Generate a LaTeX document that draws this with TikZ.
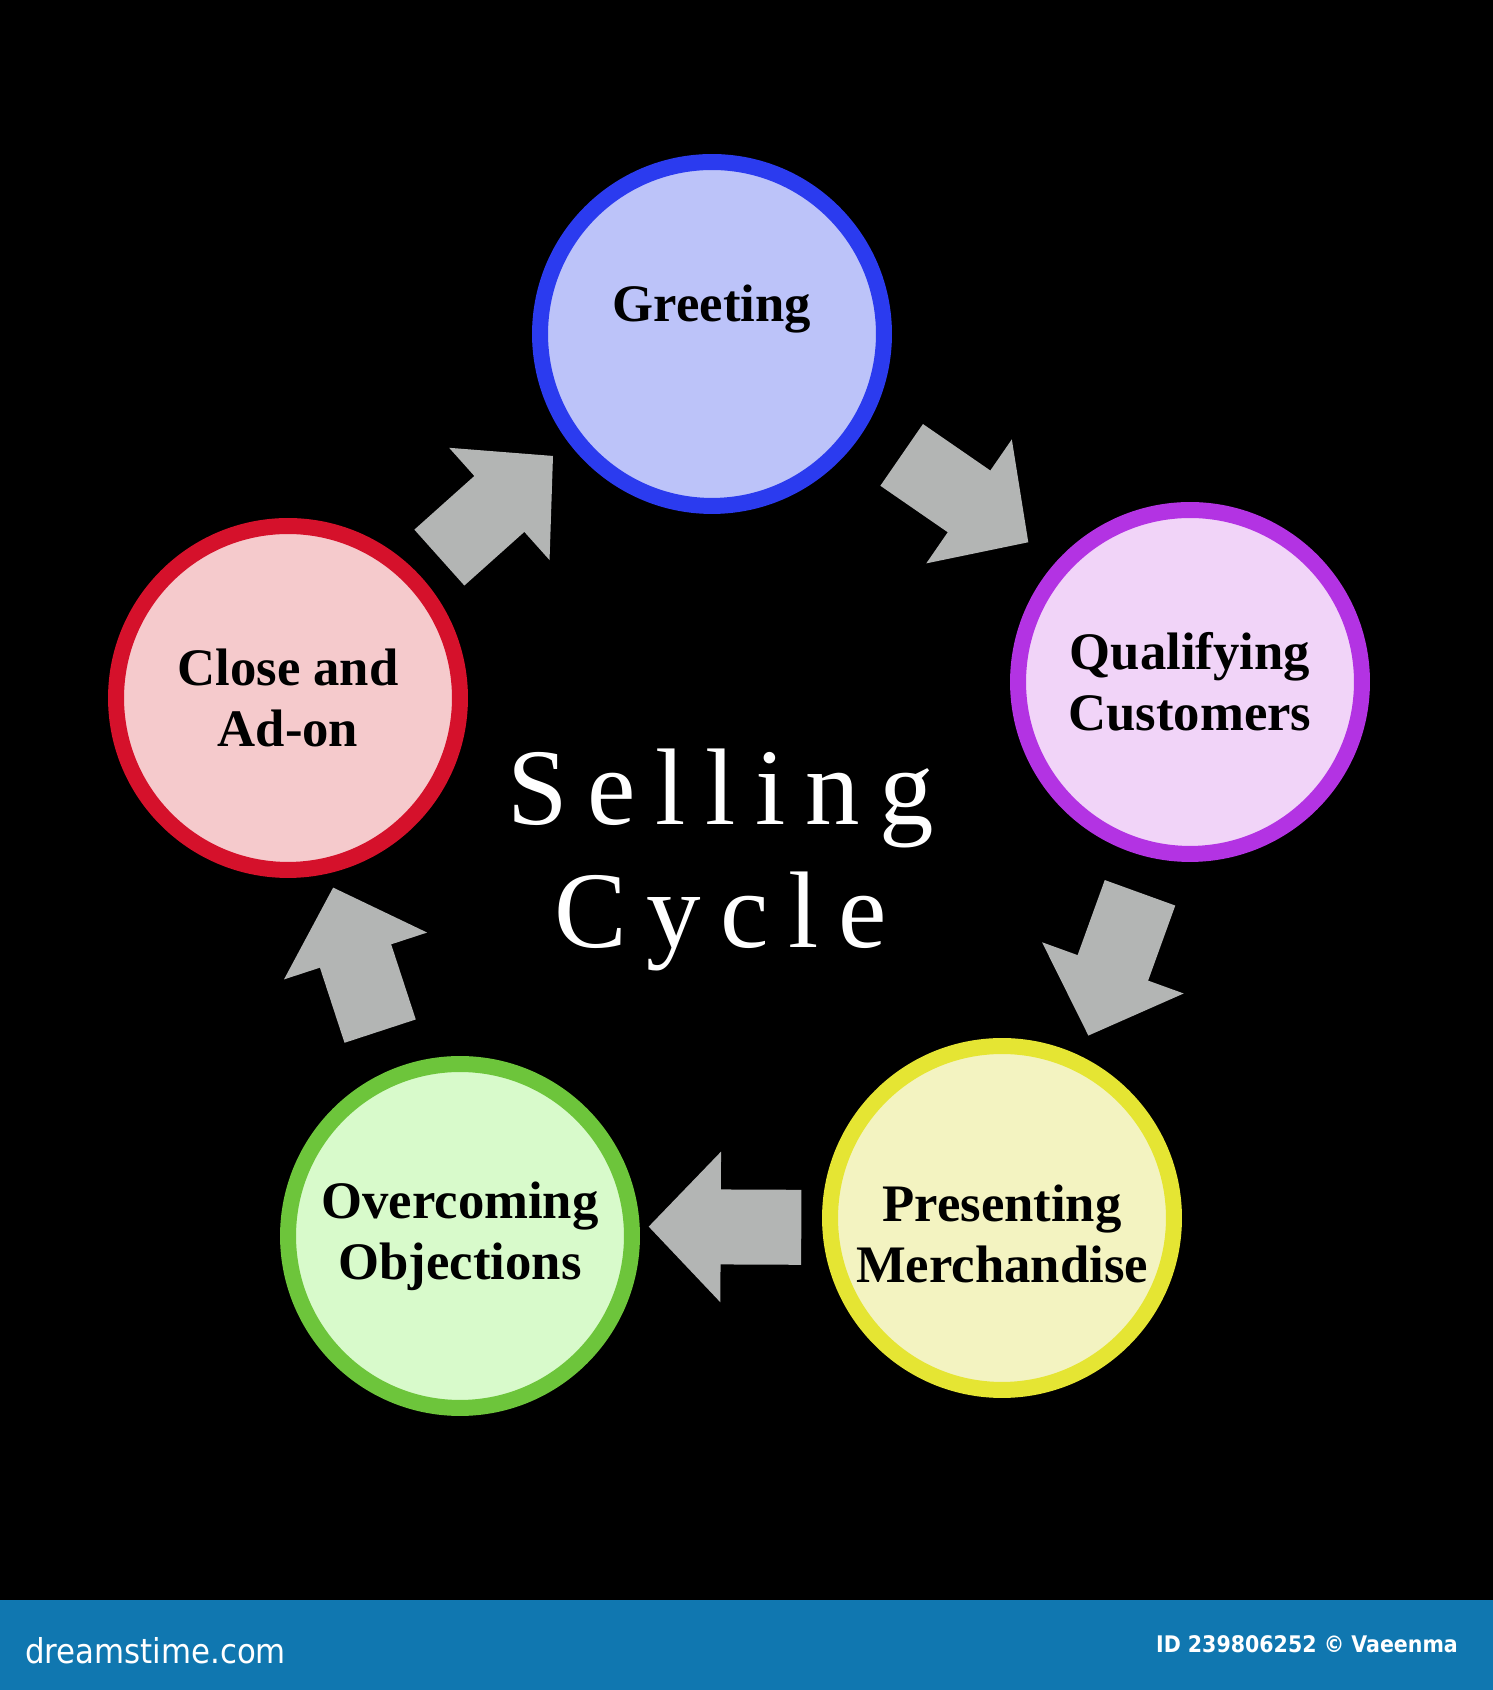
\documentclass[tikz,border=0pt]{standalone}
\usepackage{fontspec}
\setmainfont{Liberation Serif}
\newfontfamily\titlefont[LetterSpace=18]{Liberation Serif}
\newfontfamily\barfont{DejaVu Sans Condensed}
\usetikzlibrary{arrows.meta}
\newcommand{\stagefont}{\bfseries\fontsize{30}{34.6}\selectfont}
\definecolor{greetfill}{HTML}{BCC3F9}
\definecolor{greetline}{HTML}{2B3BEF}
\definecolor{qualfill}{HTML}{F1D4F8}
\definecolor{qualline}{HTML}{B333E3}
\definecolor{presfill}{HTML}{F3F3C1}
\definecolor{presline}{HTML}{E5E533}
\definecolor{overfill}{HTML}{D8FACB}
\definecolor{overline}{HTML}{6DC53B}
\definecolor{closefill}{HTML}{F5CACC}
\definecolor{closeline}{HTML}{D5112B}
\definecolor{arrowgray}{HTML}{B3B5B4}
\definecolor{barblue}{HTML}{1077B0}

\begin{document}
\begin{tikzpicture}[x=0.02cm, y=0.02cm,
    stage/.style={circle, line width=0.32cm, minimum size=6.88cm,
      align=center, font=\stagefont, text=black},
    flow/.style={draw=arrowgray, line width=1.5cm,
      -{Triangle[width=3cm, length=1.44cm, line width=2pt]}}]
  \fill[black] (0,0) rectangle (1493,1690);
  \fill[barblue] (0,0) rectangle (1493,90);

  \node[stage, fill=greetfill, draw=greetline] (greet) at (712,1356) {Greeting\\~};
  \node[stage, fill=qualfill, draw=qualline] (qual) at (1190,1008) {Qualifying\\Customers};
  \node[stage, fill=presfill, draw=presline,
    label={[font=\stagefont, align=center, yshift=-0.32cm]center:Presenting\\Merchandise}]
    (pres) at (1002,472) {};
  \node[stage, fill=overfill, draw=overline] (over) at (460,454) {Overcoming\\Objections};
  \node[stage, fill=closefill, draw=closeline] (close) at (288,992) {Close and\\Ad-on};

  \node[text=white, align=center, font=\titlefont\fontsize{62}{70.3}\selectfont]
    (title) at (721,830) {Selling\\Cycle};

  \foreach \from/\to/\sa/\sb/\ga/\gb in {close/greet/43.8/217.5/0.53cm/0.41cm,
      greet/qual/328.1/138.8/0.9cm/0.68cm,
      qual/pres/258/64.8/0.74cm/0.44cm,
      pres/over/183.1/3.3/0.42cm/0.18cm,
      over/close/112.5/283/0.8cm/0.3cm}{
    \draw[flow, shorten <=\ga, shorten >=\gb] (\from.\sa) -- (\to.\sb);
  };

  \node[anchor=base west, text=white, font=\barfont\fontsize{19.5}{22}\selectfont]
    (brand) at (19,27) {dreamstime.com};
  \node[anchor=base east, text=white, font=\barfont\bfseries\fontsize{13}{15}\selectfont]
    (credit) at (1464,37) {ID 239806252 © Vaeenma};
\end{tikzpicture}
\end{document}
